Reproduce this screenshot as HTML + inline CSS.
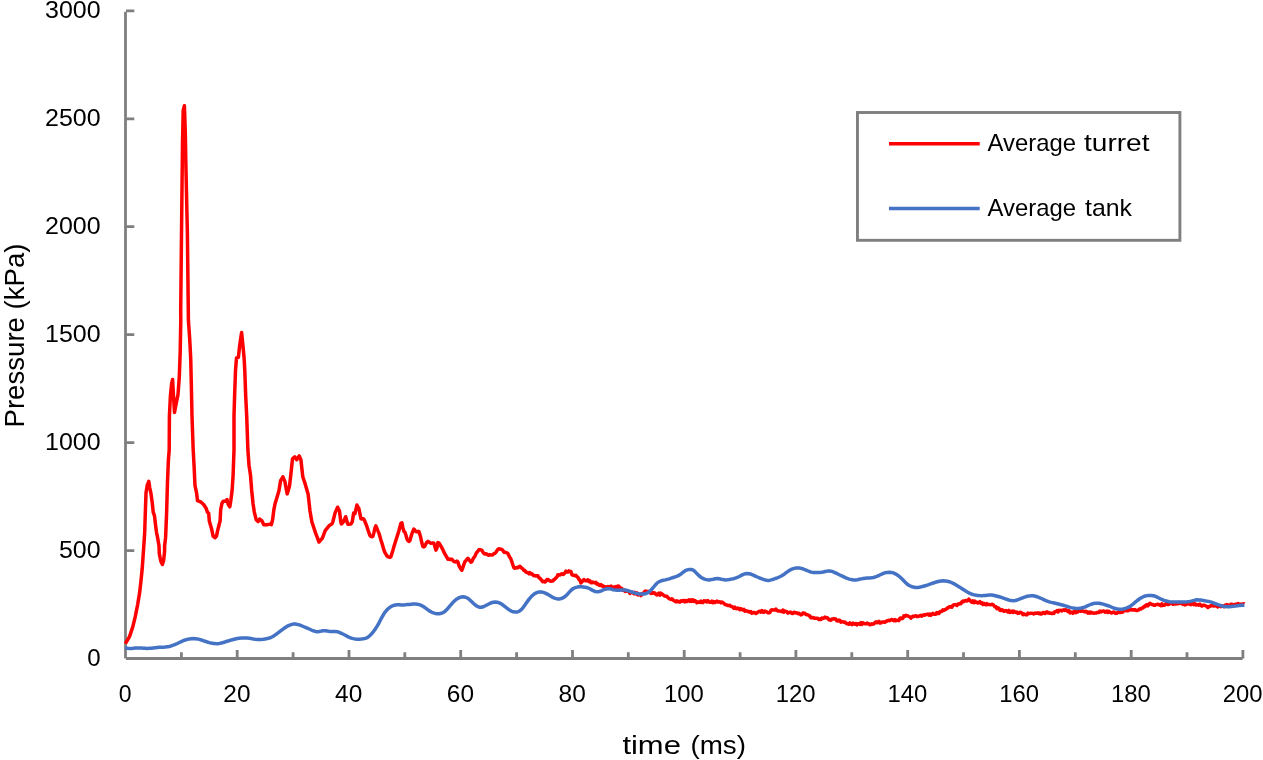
<!DOCTYPE html>
<html lang="en"><head><meta charset="utf-8"><title>Pressure vs time</title>
<style>html,body{margin:0;padding:0;background:#fff;}body{width:1263px;height:760px;overflow:hidden;}svg{display:block;}text{font-family:"Liberation Sans",Arial,sans-serif;fill:#000;}</style>
</head><body>
<svg width="1263" height="760" viewBox="0 0 1263 760">
<rect width="1263" height="760" fill="#fff"/>
<g stroke="#7f7f7f" stroke-width="2.8" fill="none">
<path d="M125.5 11.8 V658.4"/>
<path d="M126 658.5 H1242.6"/>
<path d="M126 550.6 H134.3 M126 442.6 H134.3 M126 334.7 H134.3 M126 226.7 H134.3 M126 118.8 H134.3 M126 10.8 H134.3"/>
<path d="M181.4 658.4 V652.2 M237.2 658.4 V650.1 M293.1 658.4 V652.2 M349 658.4 V650.1 M404.8 658.4 V652.2 M460.7 658.4 V650.1 M516.6 658.4 V652.2 M572.5 658.4 V650.1 M628.3 658.4 V652.2 M684.2 658.4 V650.1 M740.1 658.4 V652.2 M795.9 658.4 V650.1 M851.8 658.4 V652.2 M907.7 658.4 V650.1 M963.5 658.4 V652.2 M1019.4 658.4 V650.1 M1075.3 658.4 V652.2 M1131.2 658.4 V650.1 M1187 658.4 V652.2 M1242.9 658.4 V650.1"/>
</g>
<g font-size="23.7" text-anchor="end">
<text x="100.6" y="666" textLength="13.4" lengthAdjust="spacingAndGlyphs">0</text>
<text x="100.6" y="558" textLength="41.6" lengthAdjust="spacingAndGlyphs">500</text>
<text x="100.6" y="450" textLength="55.6" lengthAdjust="spacingAndGlyphs">1000</text>
<text x="100.6" y="342" textLength="55.6" lengthAdjust="spacingAndGlyphs">1500</text>
<text x="100.6" y="234" textLength="55.6" lengthAdjust="spacingAndGlyphs">2000</text>
<text x="100.6" y="126" textLength="55.6" lengthAdjust="spacingAndGlyphs">2500</text>
<text x="100.6" y="18" textLength="55.6" lengthAdjust="spacingAndGlyphs">3000</text>
</g>
<g font-size="23" text-anchor="middle">
<text x="125.2" y="702" textLength="12.8" lengthAdjust="spacingAndGlyphs">0</text>
<text x="236.9" y="702" textLength="27.2" lengthAdjust="spacingAndGlyphs">20</text>
<text x="348.7" y="702" textLength="27.2" lengthAdjust="spacingAndGlyphs">40</text>
<text x="460.4" y="702" textLength="27.2" lengthAdjust="spacingAndGlyphs">60</text>
<text x="572.2" y="702" textLength="27.2" lengthAdjust="spacingAndGlyphs">80</text>
<text x="683.9" y="702" textLength="39.8" lengthAdjust="spacingAndGlyphs">100</text>
<text x="795.6" y="702" textLength="39.8" lengthAdjust="spacingAndGlyphs">120</text>
<text x="907.4" y="702" textLength="39.8" lengthAdjust="spacingAndGlyphs">140</text>
<text x="1019.1" y="702" textLength="39.8" lengthAdjust="spacingAndGlyphs">160</text>
<text x="1130.9" y="702" textLength="39.8" lengthAdjust="spacingAndGlyphs">180</text>
<text x="1242.6" y="702" textLength="39.8" lengthAdjust="spacingAndGlyphs">200</text>
</g>
<g font-size="26.6">
<text x="622.4" y="753.6" textLength="58.5" lengthAdjust="spacingAndGlyphs">time</text>
<text x="690.5" y="753.6" textLength="55.5" lengthAdjust="spacingAndGlyphs">(ms)</text>
</g>
<text transform="translate(23.7 427.5) rotate(-90)" font-size="28.2" textLength="184" lengthAdjust="spacingAndGlyphs">Pressure (kPa)</text>
<path d="M125.4 643.8 L126.3 642 L129.5 636.6 L132.7 627.1 L135.2 616.9 L137.7 604.3 L139.6 592.9 L140.9 581.5 L142.2 568.8 L143.1 556.1 L143.8 546 L144.7 532.3 L145.3 513.3 L146 493.1 L147.2 485.5 L148.8 481.4 L149.8 488 L151 493.7 L152.3 503.2 L153.2 512.1 L154.5 515.9 L155.5 524.7 L156.5 532.3 L157.8 538.7 L159 546 L159.3 553.6 L160.8 561.2 L162.4 564.4 L163.7 559.9 L164.6 551.1 L164.6 546 L165.6 537.4 L166.6 513.3 L167.5 481.7 L168.4 460.1 L169.2 450 L169.4 416 L170.4 396 L171.7 383.3 L172.6 379.5 L173.5 396 L174.5 412.5 L176.4 402.3 L178 394.7 L179.3 377 L180.2 351.7 L180.8 320 L180.7 310 L181.5 234 L182.5 143 L183.2 110.5 L184.4 105.7 L185.3 132 L185.9 166 L187.4 234 L188.4 320 L189.7 339 L190.7 358 L191.3 383.3 L192 416 L193.2 450 L194.1 466.5 L195 485.5 L196.6 493.1 L197.5 500.7 L201.1 502.2 L203.6 504.5 L206.1 508.3 L207.4 512.1 L208.7 513.3 L209.3 520.9 L210.6 525.4 L211.8 529.8 L213.1 536.1 L215 537.7 L216.5 536.1 L217.5 531.1 L218.8 526 L220.1 520.9 L220.7 509.5 L222 503.2 L223.2 501.3 L225.1 501.3 L227 499.7 L228.3 504.5 L229.8 506.8 L230.8 500.7 L232.1 490.5 L233.1 475.3 L234 450 L234 416 L234.6 396 L235.5 370.7 L236.5 358 L238.4 357.4 L239.7 345.3 L241.6 332.4 L242.9 345.3 L244.1 358 L244.8 370.7 L245.7 396 L246.7 416 L247.9 450 L249 465.2 L250.5 475.3 L251.7 490.5 L253 503.2 L254.3 512.1 L256.2 519.7 L258.1 521.6 L259.7 519 L261.9 520.9 L263.8 524.7 L266.9 524.7 L270.1 524.1 L271.4 524.7 L272.6 519.7 L273.9 509.5 L275.2 503.2 L277.1 496.9 L279 490.5 L280.6 480.6 L282.9 476.8 L284.9 481.6 L287.2 493.9 L289.5 486.3 L291 473 L292.5 458.8 L294.8 456.9 L296.7 459.7 L299.2 455.9 L300.9 459.7 L302.8 476.8 L305.3 484.4 L308.1 493.9 L310 511 L311.9 522 L315.7 533.4 L319 542 L322.4 538.2 L325.2 530.6 L329 525.8 L331.9 523.9 L332.8 522 L335.1 512.9 L337.6 507.2 L339.5 511 L340.8 522 L341.4 523.9 L343.3 522 L345.7 516.7 L347.1 522 L348 524.3 L350.9 523.9 L352.2 522 L353.7 512.9 L355 513.7 L356.9 505 L357.9 506.8 L358.9 508.5 L359.9 513.6 L360.9 518.7 L361.9 519.1 L362.9 518.7 L363.9 519.1 L364.9 521.5 L365.9 523.9 L366.9 526.7 L367.9 529.7 L368.9 532.6 L369.9 535.4 L370.9 536.4 L371.9 536.7 L372.9 536.4 L373.9 532.6 L374.9 528.2 L375.9 525.8 L376.9 528.4 L377.9 530.9 L378.9 533.1 L379.9 536.6 L380.9 540 L381.9 543.1 L382.9 546.5 L383.9 550 L384.9 552.5 L385.9 554.1 L386.9 555.7 L387.9 556.7 L388.9 557.1 L389.9 557.5 L390.9 556.6 L391.9 553.5 L392.9 550.3 L393.9 546.8 L394.9 543.5 L395.9 540.2 L396.9 537.1 L397.9 534 L398.9 530.7 L399.9 526.9 L400.9 523.3 L401.9 522.8 L402.9 527.9 L403.9 531.4 L404.9 532.1 L405.9 535 L406.9 538.9 L407.9 540.7 L408.9 541.5 L409.9 540.6 L410.9 537.1 L411.9 533.7 L412.9 531.2 L413.9 529 L414.9 530.2 L415.9 531.5 L416.9 531.8 L417.9 531.5 L418.9 531.6 L419.9 534.6 L420.9 538.3 L421.9 543.1 L422.9 546.5 L423.9 547 L424.9 546.1 L425.9 543.9 L426.9 542.1 L427.9 541.4 L428.9 542 L429.9 542.6 L430.9 543.3 L431.9 543.1 L432.9 542.9 L433.9 543.2 L434.9 546.6 L435.9 550.1 L436.9 548.2 L437.9 542.6 L438.9 542.9 L439.9 544.5 L440.9 546.1 L441.9 547.9 L442.9 549.8 L443.9 552.1 L444.9 554 L445.9 555.6 L446.9 557.4 L447.9 559.3 L448.9 558.9 L449.9 559.6 L450.9 559.1 L451.9 559.3 L452.9 560.5 L453.9 561.5 L454.9 561.8 L455.9 561.9 L456.9 561.1 L457.9 561.9 L458.9 565.4 L459.9 567.4 L460.9 569.1 L461.9 570.2 L462.9 567.4 L463.9 564.4 L464.9 561.7 L465.9 560.6 L466.9 559.2 L467.9 558.3 L468.9 559.8 L469.9 560.9 L470.9 562.1 L471.9 561.6 L472.9 559.1 L473.9 557.5 L474.9 556.3 L475.9 553.9 L476.9 552.2 L477.9 551.1 L478.9 549.8 L479.9 549.6 L480.9 549.9 L481.9 550.3 L482.9 552.2 L483.9 553.3 L484.9 554 L485.9 553.7 L486.9 554.1 L487.9 555.1 L488.9 555.3 L489.9 554.6 L490.9 555 L491.9 555 L492.9 554.7 L493.9 553.5 L494.9 553.5 L495.9 552.3 L496.9 550.7 L497.9 549.3 L498.9 548.8 L499.9 548.9 L500.9 549.3 L501.9 549.4 L502.9 550.5 L503.9 552.2 L504.9 552.3 L505.9 552.6 L506.9 552.7 L507.9 553.6 L508.9 555.7 L509.9 557.4 L510.9 559 L511.9 562 L512.9 565 L513.9 567.7 L514.9 568.3 L515.9 567.7 L516.9 567.4 L517.9 567.7 L518.9 567 L519.9 566.3 L520.9 567.4 L521.9 568.2 L522.9 568.9 L523.9 570.5 L524.9 570.5 L525.9 572.1 L526.9 572.5 L527.9 572.4 L528.9 573.8 L529.9 572.7 L530.9 573.9 L531.9 573.7 L532.9 574.9 L533.9 575.8 L534.9 575.8 L535.9 576 L536.9 575.7 L537.9 575.8 L538.9 577.8 L539.9 578.2 L540.9 579.4 L541.9 580.7 L542.9 581.7 L543.9 581.3 L544.9 582 L545.9 581.3 L546.9 579.6 L547.9 579.6 L548.9 580.1 L549.9 581.1 L550.9 581.2 L551.9 581 L552.9 581.1 L553.9 579.5 L554.9 579.1 L555.9 577.9 L556.9 577.1 L557.9 574.8 L558.9 575 L559.9 574.9 L560.9 574.3 L561.9 573.7 L562.9 574.5 L563.9 573.9 L564.9 573 L565.9 571.2 L566.9 572 L567.9 572 L568.9 570.9 L569.9 571.5 L570.9 571.6 L571.9 574.6 L572.9 575.2 L573.9 575.2 L574.9 575.8 L575.9 575.3 L576.9 576.6 L577.9 577.4 L578.9 579.4 L579.9 579.9 L580.9 583 L581.9 581.8 L582.9 581 L583.9 579.5 L584.9 580.6 L585.9 580.8 L586.9 580.5 L587.9 579.8 L588.9 581.5 L589.9 580.8 L590.9 582.7 L591.9 582.7 L592.9 582.1 L593.9 582.6 L594.9 582.9 L595.9 582.3 L596.9 584 L597.9 583.7 L598.9 585.1 L599.9 585.5 L600.9 584.5 L601.9 586 L602.9 585.7 L603.9 586.9 L604.9 586.8 L605.9 587 L606.9 588.2 L607.9 586.5 L608.9 587.4 L609.9 586.8 L610.9 586.1 L611.9 587.5 L612.9 587 L613.9 587.7 L614.9 587.1 L615.9 586.6 L616.9 587.9 L617.9 586.1 L618.9 586.2 L619.9 588.2 L620.9 588.1 L621.9 588.6 L622.9 590.3 L623.9 589.8 L624.9 591.4 L625.9 591.3 L626.9 591 L627.9 590.9 L628.9 591.7 L629.9 593.5 L630.9 592.5 L631.9 592.1 L632.9 592.5 L633.9 593.8 L634.9 592.4 L635.9 593.8 L636.9 592.9 L637.9 595 L638.9 594.5 L639.9 594 L640.9 595.6 L641.9 593.7 L642.9 593.8 L643.9 592.7 L644.9 591.2 L645.9 591.1 L646.9 591.4 L647.9 591.5 L648.9 591.4 L649.9 591.6 L650.9 593.5 L651.9 592.1 L652.9 593.2 L653.9 592.7 L654.9 593.1 L655.9 594.5 L656.9 595 L657.9 594 L658.9 593.1 L659.9 595.1 L660.9 593.2 L661.9 593.9 L662.9 594.5 L663.9 595.7 L664.9 596.1 L665.9 596.2 L666.9 596.3 L667.9 597.6 L668.9 598.4 L669.9 599 L670.9 599.4 L671.9 598.8 L672.9 599.9 L673.9 600.8 L674.9 601 L675.9 601.8 L676.9 600.8 L677.9 601.8 L678.9 601.4 L679.9 602.2 L680.9 600.9 L681.9 601.3 L682.9 600.5 L683.9 600.6 L684.9 601.9 L685.9 600.5 L686.9 601.5 L687.9 600.8 L688.9 599.8 L689.9 601.3 L690.9 599.9 L691.9 601.4 L692.9 599.8 L693.9 601.4 L694.9 600.6 L695.9 601.2 L696.9 602.7 L697.9 602 L698.9 602.3 L699.9 602.4 L700.9 601.1 L701.9 602.4 L702.9 602.5 L703.9 600.8 L704.9 601.5 L705.9 600.9 L706.9 601.9 L707.9 600.6 L708.9 601.7 L709.9 602.3 L710.9 602.3 L711.9 601.1 L712.9 602.7 L713.9 601.5 L714.9 602.5 L715.9 601.8 L716.9 601 L717.9 602.1 L718.9 602.1 L719.9 601.8 L720.9 602.8 L721.9 602 L722.9 602.7 L723.9 603.2 L724.9 604.6 L725.9 604.7 L726.9 604.9 L727.9 605.5 L728.9 605.4 L729.9 605.2 L730.9 606.5 L731.9 606.4 L732.9 607.1 L733.9 608.4 L734.9 607.2 L735.9 608.5 L736.9 608.7 L737.9 608.1 L738.9 608.6 L739.9 609.7 L740.9 608.5 L741.9 609.3 L742.9 610 L743.9 609.4 L744.9 611.1 L745.9 610.7 L746.9 610.9 L747.9 611.7 L748.9 611.4 L749.9 612.3 L750.9 611.7 L751.9 613.3 L752.9 612.8 L753.9 612.5 L754.9 612.8 L755.9 613.5 L756.9 613 L757.9 612.1 L758.9 611.5 L759.9 611.3 L760.9 612.2 L761.9 610.5 L762.9 612.2 L763.9 612.3 L764.9 611.1 L765.9 611.5 L766.9 612.1 L767.9 612.7 L768.9 612.9 L769.9 612.5 L770.9 610.5 L771.9 609.8 L772.9 609.9 L773.9 609.9 L774.9 610.1 L775.9 609.1 L776.9 610.3 L777.9 610.9 L778.9 611 L779.9 611.1 L780.9 611.3 L781.9 611.7 L782.9 610.1 L783.9 612.1 L784.9 611 L785.9 611.4 L786.9 611.9 L787.9 613.1 L788.9 612.5 L789.9 612.2 L790.9 612.3 L791.9 613.5 L792.9 613.5 L793.9 612.2 L794.9 612.6 L795.9 613 L796.9 612.8 L797.9 613.7 L798.9 613.2 L799.9 614 L800.9 614.9 L801.9 614.6 L802.9 613 L803.9 613 L804.9 613.4 L805.9 614.5 L806.9 614.6 L807.9 614.9 L808.9 615.7 L809.9 616 L810.9 617.8 L811.9 617.7 L812.9 617.4 L813.9 618.2 L814.9 618.1 L815.9 618.4 L816.9 618.2 L817.9 618.5 L818.9 619.6 L819.9 619.3 L820.9 619.4 L821.9 618 L822.9 618.5 L823.9 617.9 L824.9 617.1 L825.9 618 L826.9 617.6 L827.9 618.3 L828.9 619.8 L829.9 619.9 L830.9 620.2 L831.9 618.9 L832.9 619.1 L833.9 618.8 L834.9 619 L835.9 619 L836.9 620.8 L837.9 621 L838.9 620 L839.9 620.4 L840.9 622.2 L841.9 621.7 L842.9 621.7 L843.9 622.2 L844.9 622.1 L845.9 623.1 L846.9 623.7 L847.9 623.6 L848.9 624.3 L849.9 622.9 L850.9 623.9 L851.9 624.7 L852.9 623.1 L853.9 623.9 L854.9 624.2 L855.9 623.6 L856.9 624.8 L857.9 623.8 L858.9 623.7 L859.9 624.5 L860.9 622.7 L861.9 624.4 L862.9 622.8 L863.9 623.4 L864.9 623.7 L865.9 623.8 L866.9 623 L867.9 623.7 L868.9 623.8 L869.9 624.8 L870.9 624.5 L871.9 623.7 L872.9 624.2 L873.9 623.8 L874.9 622.6 L875.9 621.9 L876.9 622.8 L877.9 622.1 L878.9 621.3 L879.9 623.1 L880.9 623 L881.9 622 L882.9 622 L883.9 622 L884.9 622.3 L885.9 621.2 L886.9 621.3 L887.9 620.4 L888.9 620.3 L889.9 620.7 L890.9 619.9 L891.9 619.4 L892.9 620 L893.9 620.7 L894.9 619.6 L895.9 620.7 L896.9 620.3 L897.9 620.2 L898.9 620.6 L899.9 618.4 L900.9 617.9 L901.9 618.7 L902.9 618 L903.9 615.7 L904.9 616.5 L905.9 615.2 L906.9 615.7 L907.9 615.9 L908.9 616.5 L909.9 616.9 L910.9 618.1 L911.9 617 L912.9 616.3 L913.9 616.5 L914.9 615.9 L915.9 615.8 L916.9 616.5 L917.9 616.6 L918.9 615.9 L919.9 615.9 L920.9 615.2 L921.9 616.1 L922.9 615.4 L923.9 614.7 L924.9 615.2 L925.9 614.4 L926.9 614.4 L927.9 614 L928.9 615.2 L929.9 614 L930.9 615.3 L931.9 614 L932.9 613.4 L933.9 614.3 L934.9 614.2 L935.9 614.2 L936.9 612.5 L937.9 613.6 L938.9 613.5 L939.9 611.8 L940.9 611.5 L941.9 611.2 L942.9 609.9 L943.9 610.5 L944.9 609.6 L945.9 609.5 L946.9 608.3 L947.9 608 L948.9 606.9 L949.9 606.7 L950.9 607.1 L951.9 607.2 L952.9 605.3 L953.9 604.8 L954.9 604.6 L955.9 605 L956.9 605.5 L957.9 604 L958.9 604.1 L959.9 603.6 L960.9 603.8 L961.9 601.9 L962.9 601.1 L963.9 601.7 L964.9 600.9 L965.9 600.4 L966.9 601 L967.9 600.4 L968.9 599.2 L969.9 600.6 L970.9 601.6 L971.9 602.3 L972.9 600.9 L973.9 602.7 L974.9 601.2 L975.9 602.5 L976.9 602.3 L977.9 603 L978.9 602.4 L979.9 601.7 L980.9 603.3 L981.9 602.9 L982.9 604.5 L983.9 603.3 L984.9 604.2 L985.9 604.8 L986.9 603.7 L987.9 604.6 L988.9 604.6 L989.9 604.6 L990.9 604.8 L991.9 604.3 L992.9 604.6 L993.9 605.6 L994.9 606.7 L995.9 606.8 L996.9 608.6 L997.9 607.7 L998.9 608.2 L999.9 610.3 L1000.9 610.5 L1001.9 609.8 L1002.9 610.1 L1003.9 611.3 L1004.9 611 L1005.9 610.5 L1006.9 611 L1007.9 612 L1008.9 610.4 L1009.9 612.5 L1010.9 611.8 L1011.9 611.1 L1012.9 612.5 L1013.9 611.2 L1014.9 612 L1015.9 612.5 L1016.9 612 L1017.9 613.4 L1018.9 613.2 L1019.9 612.3 L1020.9 612.5 L1021.9 613 L1022.9 614.7 L1023.9 613.9 L1024.9 614.4 L1025.9 614.8 L1026.9 614.8 L1027.9 613.1 L1028.9 613.4 L1029.9 613.4 L1030.9 613.3 L1031.9 613.3 L1032.9 613.4 L1033.9 614 L1034.9 613.1 L1035.9 613.2 L1036.9 613.3 L1037.9 612.8 L1038.9 613.7 L1039.9 613.1 L1040.9 614.1 L1041.9 613.8 L1042.9 612.5 L1043.9 612.4 L1044.9 613.4 L1045.9 612.9 L1046.9 611.8 L1047.9 613 L1048.9 612.5 L1049.9 613.3 L1050.9 613.2 L1051.9 613.6 L1052.9 613.1 L1053.9 613.4 L1054.9 611.8 L1055.9 611.6 L1056.9 610.7 L1057.9 612 L1058.9 610.3 L1059.9 610.7 L1060.9 610.3 L1061.9 611 L1062.9 610.2 L1063.9 609.8 L1064.9 610.4 L1065.9 609.8 L1066.9 610.5 L1067.9 611.5 L1068.9 610.7 L1069.9 612.9 L1070.9 612.3 L1071.9 612.2 L1072.9 613.3 L1073.9 611.6 L1074.9 611.8 L1075.9 612.7 L1076.9 611.1 L1077.9 611.8 L1078.9 610.3 L1079.9 610.9 L1080.9 611.3 L1081.9 610.6 L1082.9 611 L1083.9 611.6 L1084.9 611.9 L1085.9 611.2 L1086.9 611.9 L1087.9 613.2 L1088.9 612 L1089.9 613.1 L1090.9 612.1 L1091.9 612.8 L1092.9 613.1 L1093.9 613.2 L1094.9 613.1 L1095.9 613.1 L1096.9 612.6 L1097.9 612.6 L1098.9 612.5 L1099.9 611.1 L1100.9 611.9 L1101.9 611.4 L1102.9 611 L1103.9 610.9 L1104.9 612.2 L1105.9 612.1 L1106.9 611.1 L1107.9 612.3 L1108.9 611.3 L1109.9 612.2 L1110.9 612.7 L1111.9 613 L1112.9 612.2 L1113.9 612.1 L1114.9 613.1 L1115.9 613.4 L1116.9 613.2 L1117.9 612.1 L1118.9 612.3 L1119.9 612.4 L1120.9 612.5 L1121.9 611.6 L1122.9 612.1 L1123.9 610.7 L1124.9 610.3 L1125.9 610.2 L1126.9 610.8 L1127.9 610.8 L1128.9 609.8 L1129.9 610.1 L1130.9 609.1 L1131.9 609.9 L1132.9 609.8 L1133.9 609.9 L1134.9 609.5 L1135.9 610.4 L1136.9 610.6 L1137.9 610.1 L1138.9 609.8 L1139.9 608.7 L1140.9 609 L1141.9 608 L1142.9 608.1 L1143.9 606.6 L1144.9 606.7 L1145.9 605.3 L1146.9 604.6 L1147.9 605.9 L1148.9 604.4 L1149.9 603.3 L1150.9 604 L1151.9 604.6 L1152.9 604.5 L1153.9 605.2 L1154.9 605.3 L1155.9 604.6 L1156.9 604.4 L1157.9 604.3 L1158.9 604.6 L1159.9 605.2 L1160.9 605.7 L1161.9 603.8 L1162.9 605.4 L1163.9 605.2 L1164.9 605 L1165.9 603.7 L1166.9 603.4 L1167.9 604.6 L1168.9 604.3 L1169.9 603.5 L1170.9 603.3 L1171.9 602.5 L1172.9 604.3 L1173.9 603.9 L1174.9 604.1 L1175.9 603.8 L1176.9 603.1 L1177.9 603.8 L1178.9 602.5 L1179.9 603.4 L1180.9 602.6 L1181.9 603.1 L1182.9 604.4 L1183.9 603.7 L1184.9 604.9 L1185.9 604.6 L1186.9 604.1 L1187.9 603.9 L1188.9 603.3 L1189.9 604.3 L1190.9 604.7 L1191.9 603.3 L1192.9 603.7 L1193.9 604.6 L1194.9 603.6 L1195.9 605 L1196.9 605 L1197.9 604.6 L1198.9 605.1 L1199.9 604.2 L1200.9 605.4 L1201.9 606.1 L1202.9 605.3 L1203.9 605.2 L1204.9 605.4 L1205.9 606 L1206.9 606.4 L1207.9 607.5 L1208.9 606.5 L1209.9 606.4 L1210.9 605.7 L1211.9 605.4 L1212.9 605.7 L1213.9 606.1 L1214.9 605.1 L1215.9 605.7 L1216.9 606.3 L1217.9 607 L1218.9 605.8 L1219.9 606.2 L1220.9 606.6 L1221.9 605.5 L1222.9 606.3 L1223.9 606.8 L1224.9 605.3 L1225.9 605.5 L1226.9 604.6 L1227.9 605.2 L1228.9 606 L1229.9 605 L1230.9 604.2 L1231.9 604.3 L1232.9 604.8 L1233.9 605.1 L1234.9 604.2 L1235.9 604.2 L1236.9 604.8 L1237.9 603.5 L1238.9 605.2 L1239.9 604.3 L1240.9 604.1 L1241.9 605 L1242.9 604 L1243.9 603.8 L1244.4 604.1" fill="none" stroke="#ff0000" stroke-width="3.5" stroke-linejoin="round" stroke-linecap="butt"/>
<path d="M125.3 647.8 L127.3 648.2 L129.3 648.4 L131.3 648.4 L133.3 648.3 L135.3 648.1 L137.3 648 L139.3 648 L141.3 648.1 L143.3 648.2 L145.3 648.3 L147.3 648.4 L149.3 648.3 L151.3 648.2 L153.3 647.9 L155.3 647.7 L157.3 647.5 L159.3 647.3 L161.3 647.2 L163.3 647.2 L165.3 647.1 L167.3 646.8 L169.3 646.5 L171.3 645.9 L173.3 645.2 L175.3 644.4 L177.3 643.5 L179.3 642.5 L181.3 641.6 L183.3 640.7 L185.3 640 L187.3 639.4 L189.3 639 L191.3 638.8 L193.3 638.6 L195.3 638.7 L197.3 638.9 L199.3 639.4 L201.3 640 L203.3 640.7 L205.3 641.3 L207.3 642 L209.3 642.6 L211.3 643.1 L213.3 643.4 L215.3 643.6 L217.3 643.7 L219.3 643.4 L221.3 643 L223.3 642.5 L225.3 641.8 L227.3 641.2 L229.3 640.6 L231.3 640 L233.3 639.5 L235.3 639 L237.3 638.5 L239.3 638.2 L241.3 638 L243.3 637.9 L245.3 637.9 L247.3 638.1 L249.3 638.3 L251.3 638.6 L253.3 639 L255.3 639.3 L257.3 639.5 L259.3 639.5 L261.3 639.4 L263.3 639.2 L265.3 638.9 L267.3 638.6 L269.3 638 L271.3 637.3 L273.3 636.3 L275.3 634.9 L277.3 633.5 L279.3 631.9 L281.3 630.4 L283.3 628.9 L285.3 627.5 L287.3 626.2 L289.3 625.3 L291.3 624.5 L293.3 624.1 L295.3 624.1 L297.3 624.4 L299.3 624.9 L301.3 625.7 L303.3 626.5 L305.3 627.3 L307.3 628.2 L309.3 629 L311.3 630 L313.3 630.8 L315.3 631.4 L317.3 631.7 L319.3 631.5 L321.3 631.1 L323.3 630.8 L325.3 630.7 L327.3 631 L329.3 631.4 L331.3 631.5 L333.3 631.4 L335.3 631.4 L337.3 631.7 L339.3 632.4 L341.3 633.3 L343.3 634.3 L345.3 635.3 L347.3 636.4 L349.3 637.3 L351.3 638.1 L353.3 638.6 L355.3 639 L357.3 639.2 L359.3 639.2 L361.3 639.1 L363.3 638.8 L365.3 638.4 L367.3 637.6 L369.3 636.1 L371.3 634.2 L373.3 631.8 L375.3 629 L377.3 625.9 L379.3 622.3 L381.3 618.4 L383.3 614.8 L385.3 611.8 L387.3 609.5 L389.3 607.7 L391.3 606.4 L393.3 605.5 L395.3 605 L397.3 604.8 L399.3 604.8 L401.3 604.9 L403.3 604.9 L405.3 604.8 L407.3 604.6 L409.3 604.4 L411.3 604.2 L413.3 604 L415.3 604 L417.3 604.2 L419.3 604.6 L421.3 605.4 L423.3 606.5 L425.3 607.9 L427.3 609.4 L429.3 610.9 L431.3 612 L433.3 612.9 L435.3 613.4 L437.3 613.7 L439.3 613.7 L441.3 613.3 L443.3 612.5 L445.3 611.1 L447.3 609.1 L449.3 606.7 L451.3 604.3 L453.3 602.1 L455.3 600.2 L457.3 598.7 L459.3 597.6 L461.3 597 L463.3 596.8 L465.3 597.2 L467.3 598 L469.3 599.4 L471.3 601.3 L473.3 603.2 L475.3 605 L477.3 606.4 L479.3 607.2 L481.3 607.3 L483.3 606.7 L485.3 605.7 L487.3 604.7 L489.3 603.7 L491.3 602.8 L493.3 602.3 L495.3 602.1 L497.3 602.3 L499.3 602.9 L501.3 603.9 L503.3 605.3 L505.3 606.9 L507.3 608.5 L509.3 609.9 L511.3 611.1 L513.3 611.8 L515.3 612.1 L517.3 612 L519.3 611.2 L521.3 609.6 L523.3 607.3 L525.3 604.5 L527.3 601.6 L529.3 598.9 L531.3 596.6 L533.3 594.7 L535.3 593.3 L537.3 592.4 L539.3 592 L541.3 592 L543.3 592.4 L545.3 593.1 L547.3 594.1 L549.3 595.3 L551.3 596.5 L553.3 597.6 L555.3 598.4 L557.3 598.9 L559.3 598.9 L561.3 598.6 L563.3 597.7 L565.3 596.3 L567.3 594.4 L569.3 592.1 L571.3 590 L573.3 588.5 L575.3 587.6 L577.3 587.1 L579.3 586.8 L581.3 586.8 L583.3 586.9 L585.3 587.2 L587.3 587.7 L589.3 588.5 L591.3 589.6 L593.3 590.7 L595.3 591.6 L597.3 591.8 L599.3 591.5 L601.3 590.8 L603.3 589.9 L605.3 589.2 L607.3 588.8 L609.3 588.8 L611.3 589.1 L613.3 589.7 L615.3 590.1 L617.3 590.3 L619.3 590.3 L621.3 590.1 L623.3 589.9 L625.3 590 L627.3 590.5 L629.3 591.1 L631.3 591.8 L633.3 592.4 L635.3 593.1 L637.3 593.6 L639.3 593.9 L641.3 594.1 L643.3 594.1 L645.3 593.8 L647.3 593 L649.3 591.7 L651.3 589.8 L653.3 587.5 L655.3 585 L657.3 582.9 L659.3 581.6 L661.3 580.8 L663.3 580.3 L665.3 579.9 L667.3 579.4 L669.3 578.9 L671.3 578.2 L673.3 577.5 L675.3 576.8 L677.3 576.1 L679.3 575.1 L681.3 573.7 L683.3 572.1 L685.3 570.7 L687.3 569.9 L689.3 569.4 L691.3 569.5 L693.3 570.2 L695.3 571.9 L697.3 574.1 L699.3 576 L701.3 577.5 L703.3 578.6 L705.3 579.4 L707.3 579.8 L709.3 579.9 L711.3 579.6 L713.3 579.2 L715.3 578.7 L717.3 578.5 L719.3 578.7 L721.3 579.2 L723.3 579.6 L725.3 579.9 L727.3 579.8 L729.3 579.5 L731.3 579.1 L733.3 578.7 L735.3 578.1 L737.3 577.4 L739.3 576.5 L741.3 575.4 L743.3 574.4 L745.3 573.8 L747.3 573.5 L749.3 573.7 L751.3 574.3 L753.3 575.1 L755.3 576.1 L757.3 577 L759.3 577.8 L761.3 578.7 L763.3 579.4 L765.3 580 L767.3 580.4 L769.3 580.4 L771.3 579.9 L773.3 579.3 L775.3 578.5 L777.3 577.8 L779.3 577 L781.3 576 L783.3 574.8 L785.3 573.3 L787.3 571.9 L789.3 570.5 L791.3 569.4 L793.3 568.6 L795.3 568.1 L797.3 567.9 L799.3 568 L801.3 568.4 L803.3 569 L805.3 569.8 L807.3 570.7 L809.3 571.5 L811.3 572.1 L813.3 572.5 L815.3 572.6 L817.3 572.6 L819.3 572.5 L821.3 572.3 L823.3 572 L825.3 571.5 L827.3 571.1 L829.3 570.9 L831.3 571.2 L833.3 571.9 L835.3 572.8 L837.3 573.7 L839.3 574.7 L841.3 575.7 L843.3 576.6 L845.3 577.6 L847.3 578.4 L849.3 579.1 L851.3 579.6 L853.3 579.9 L855.3 579.9 L857.3 579.7 L859.3 579.3 L861.3 578.9 L863.3 578.5 L865.3 578.2 L867.3 578.1 L869.3 578 L871.3 577.8 L873.3 577.5 L875.3 577 L877.3 576.2 L879.3 575.3 L881.3 574.3 L883.3 573.4 L885.3 572.8 L887.3 572.4 L889.3 572.2 L891.3 572.4 L893.3 572.9 L895.3 573.8 L897.3 575 L899.3 576.4 L901.3 578.3 L903.3 580.3 L905.3 582.4 L907.3 584.2 L909.3 585.5 L911.3 586.5 L913.3 587.1 L915.3 587.4 L917.3 587.4 L919.3 587.2 L921.3 586.8 L923.3 586.3 L925.3 585.7 L927.3 585.1 L929.3 584.4 L931.3 583.7 L933.3 583 L935.3 582.3 L937.3 581.7 L939.3 581.2 L941.3 580.9 L943.3 580.8 L945.3 580.9 L947.3 581.2 L949.3 581.7 L951.3 582.5 L953.3 583.4 L955.3 584.5 L957.3 585.7 L959.3 586.9 L961.3 588.2 L963.3 589.5 L965.3 590.8 L967.3 592 L969.3 593.1 L971.3 594 L973.3 594.6 L975.3 595.1 L977.3 595.4 L979.3 595.6 L981.3 595.7 L983.3 595.6 L985.3 595.4 L987.3 595.2 L989.3 595.1 L991.3 595.1 L993.3 595.3 L995.3 595.7 L997.3 596.2 L999.3 596.8 L1001.3 597.4 L1003.3 598.1 L1005.3 598.8 L1007.3 599.5 L1009.3 600.2 L1011.3 600.6 L1013.3 600.8 L1015.3 600.5 L1017.3 600 L1019.3 599.2 L1021.3 598.4 L1023.3 597.6 L1025.3 596.9 L1027.3 596.3 L1029.3 595.9 L1031.3 595.8 L1033.3 595.8 L1035.3 596.2 L1037.3 596.8 L1039.3 597.6 L1041.3 598.5 L1043.3 599.4 L1045.3 600.4 L1047.3 601.2 L1049.3 601.9 L1051.3 602.4 L1053.3 602.8 L1055.3 603.2 L1057.3 603.7 L1059.3 604.2 L1061.3 604.7 L1063.3 605.3 L1065.3 605.9 L1067.3 606.5 L1069.3 607.1 L1071.3 607.6 L1073.3 608 L1075.3 608.3 L1077.3 608.4 L1079.3 608.3 L1081.3 608 L1083.3 607.5 L1085.3 606.8 L1087.3 605.9 L1089.3 605 L1091.3 604.2 L1093.3 603.6 L1095.3 603.3 L1097.3 603.2 L1099.3 603.3 L1101.3 603.7 L1103.3 604.1 L1105.3 604.8 L1107.3 605.5 L1109.3 606.2 L1111.3 607 L1113.3 607.8 L1115.3 608.5 L1117.3 609.1 L1119.3 609.3 L1121.3 609.3 L1123.3 609 L1125.3 608.5 L1127.3 607.7 L1129.3 606.8 L1131.3 605.5 L1133.3 603.9 L1135.3 602.2 L1137.3 600.5 L1139.3 599 L1141.3 597.7 L1143.3 596.7 L1145.3 596 L1147.3 595.6 L1149.3 595.4 L1151.3 595.5 L1153.3 595.8 L1155.3 596.3 L1157.3 597.2 L1159.3 598.2 L1161.3 599.2 L1163.3 600.1 L1165.3 600.8 L1167.3 601.3 L1169.3 601.7 L1171.3 601.9 L1173.3 602 L1175.3 602.1 L1177.3 602.1 L1179.3 602.1 L1181.3 602.1 L1183.3 602.1 L1185.3 602 L1187.3 601.8 L1189.3 601.5 L1191.3 601.1 L1193.3 600.6 L1195.3 600.1 L1197.3 599.8 L1199.3 599.9 L1201.3 600.1 L1203.3 600.5 L1205.3 600.9 L1207.3 601.3 L1209.3 601.6 L1211.3 602.1 L1213.3 602.8 L1215.3 603.6 L1217.3 604.4 L1219.3 605.1 L1221.3 605.8 L1223.3 606.3 L1225.3 606.6 L1227.3 606.7 L1229.3 606.7 L1231.3 606.5 L1233.3 606.3 L1235.3 606.1 L1237.3 605.8 L1239.3 605.5 L1241.3 605.3 L1243.3 605.2 L1244.4 605.1" fill="none" stroke="#4472c4" stroke-width="3.5" stroke-linejoin="round" stroke-linecap="butt"/>
<rect x="857.45" y="112.5" width="322.45" height="127.8" fill="#fff" stroke="#7f7f7f" stroke-width="2.9"/>
<path d="M889 143.7 H979.7" stroke="#ff0000" stroke-width="3.4"/>
<path d="M889 208.5 H979.7" stroke="#4472c4" stroke-width="3.3"/>
<g font-size="23.2">
<text x="987.6" y="151.3" textLength="88.5" lengthAdjust="spacingAndGlyphs">Average</text>
<text x="1084.0" y="151.3" textLength="65.5" lengthAdjust="spacingAndGlyphs">turret</text>
<text x="987.6" y="215.6" textLength="88.5" lengthAdjust="spacingAndGlyphs">Average</text>
<text x="1085.0" y="215.6" textLength="47.0" lengthAdjust="spacingAndGlyphs">tank</text>
</g>
</svg>
</body></html>
